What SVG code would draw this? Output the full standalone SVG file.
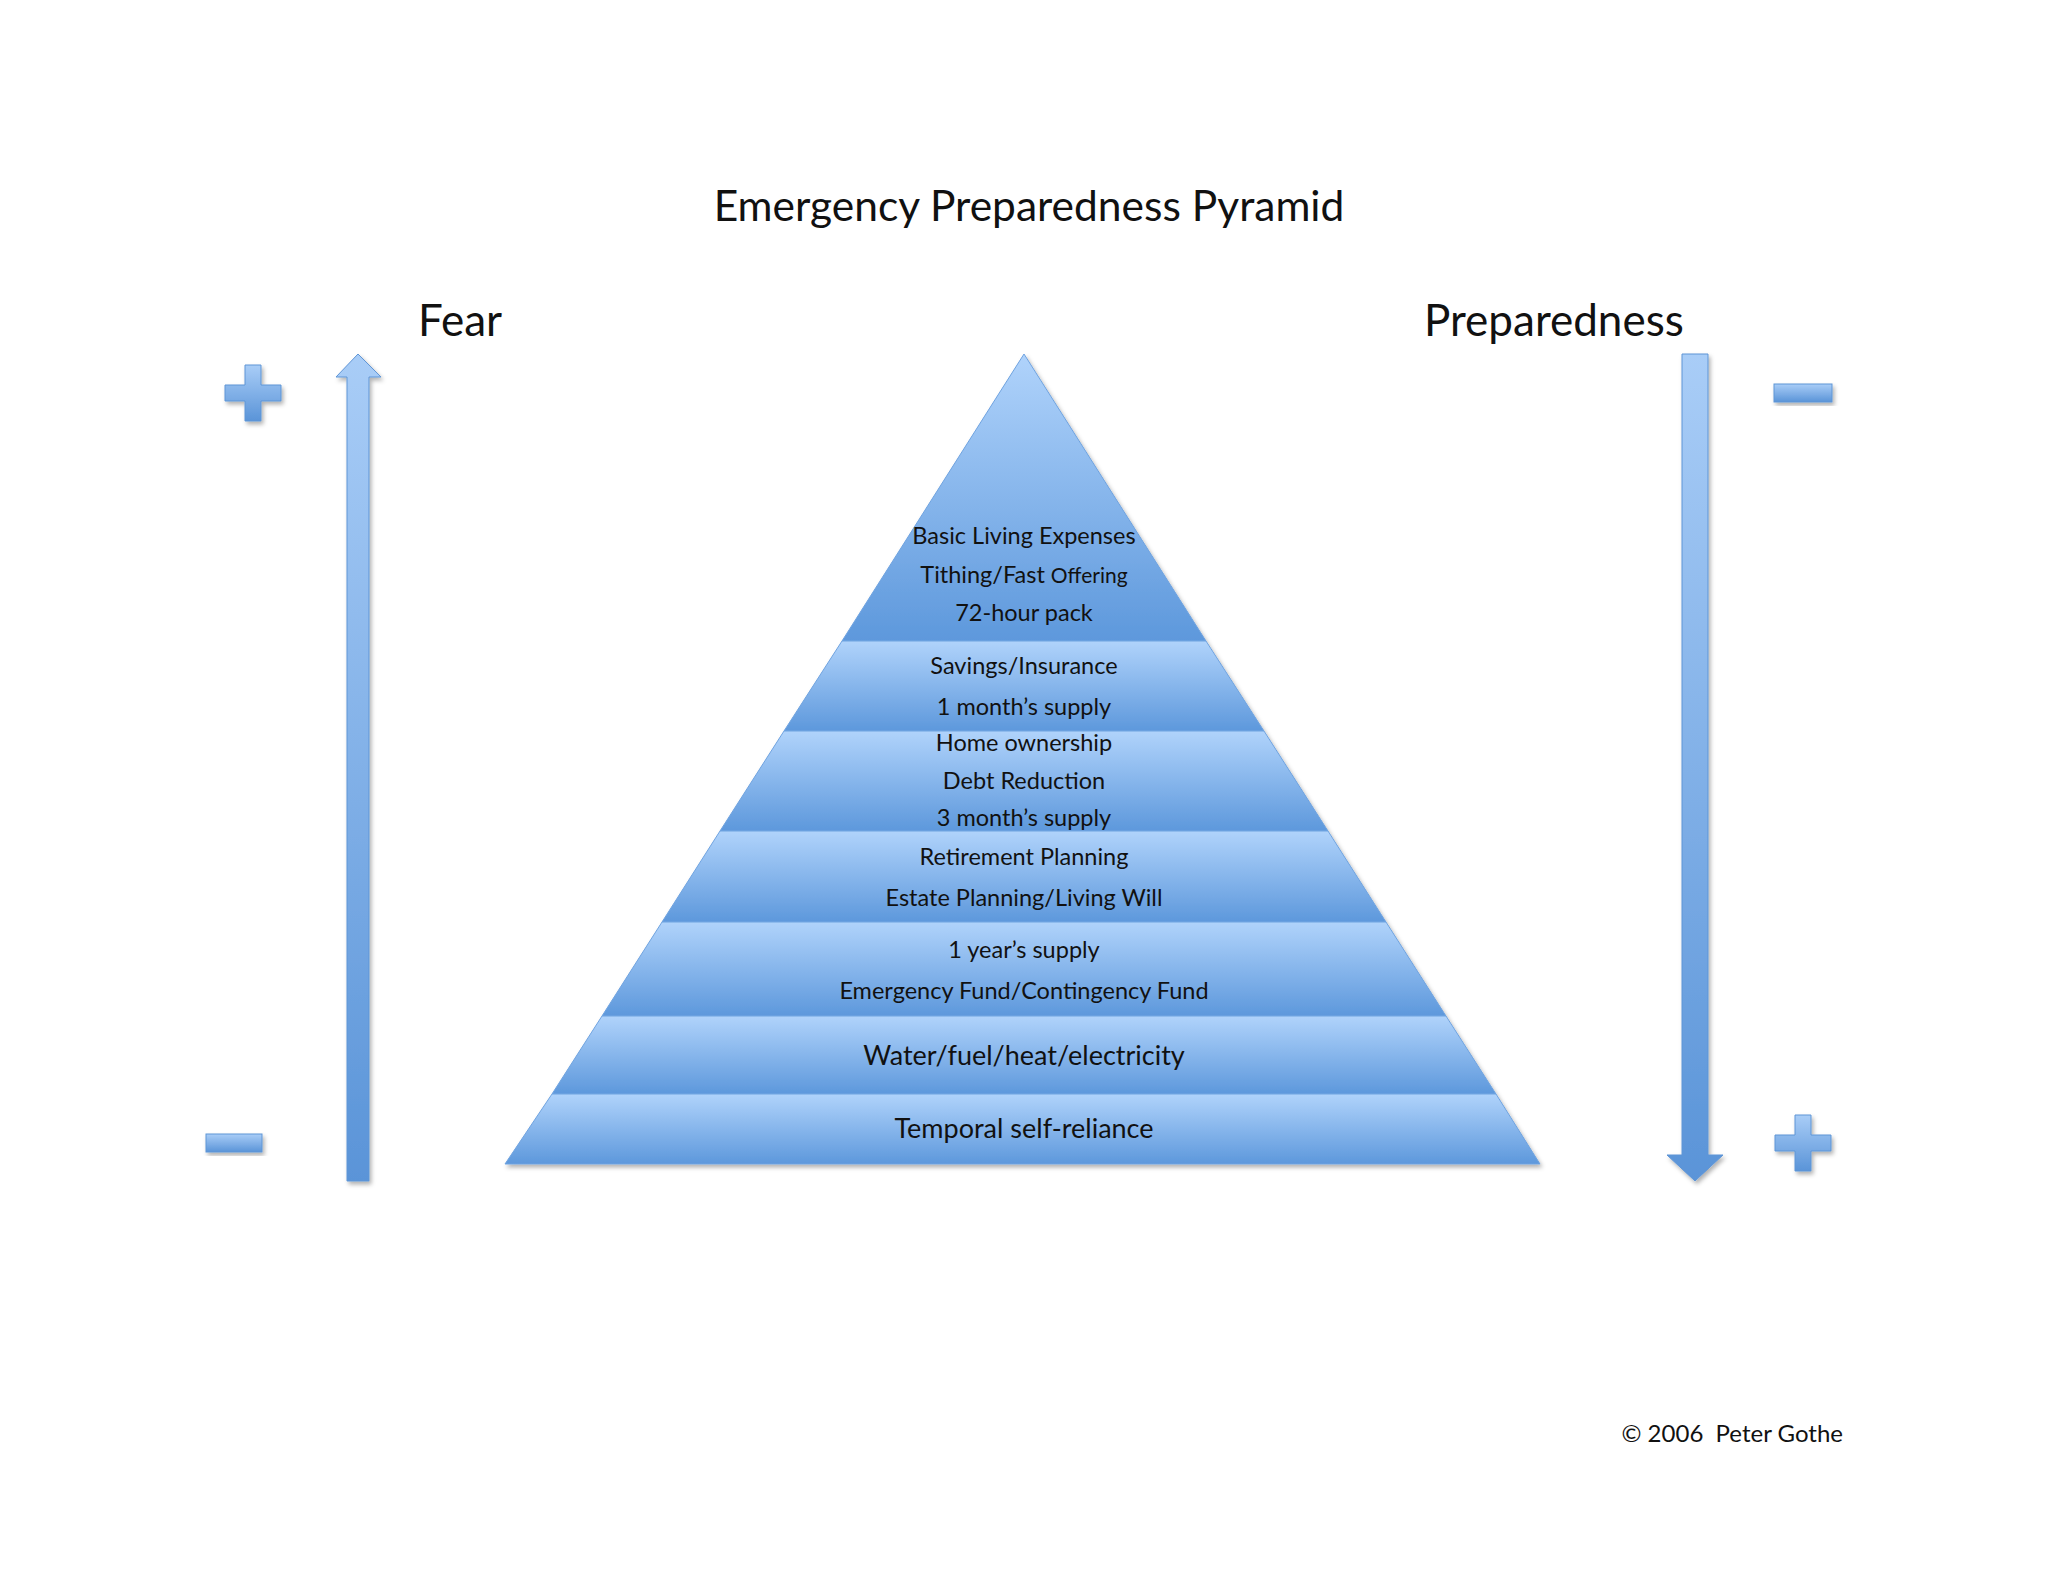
<svg xmlns="http://www.w3.org/2000/svg" width="2048" height="1582" viewBox="0 0 2048 1582">
<defs>
<linearGradient id="lg" x1="0" y1="0" x2="0" y2="1">
<stop offset="0" stop-color="#b0d3fb"/><stop offset="1" stop-color="#5d98dc"/>
</linearGradient>
<linearGradient id="ag" x1="0" y1="0" x2="0" y2="1">
<stop offset="0" stop-color="#a9cdf7"/><stop offset="1" stop-color="#5a94d8"/>
</linearGradient>
<filter id="sh" x="-10%" y="-10%" width="130%" height="130%">
<feDropShadow dx="2" dy="3" stdDeviation="2" flood-color="#000" flood-opacity="0.3"/>
</filter>
</defs>
<style>
.t{font-family:Lato,"Open Sans",sans-serif;fill:#111;text-anchor:middle}
.s{font-size:23.5px}
.b{font-size:27px}
.l{fill:url(#lg);stroke:#6fa3e0;stroke-width:1}
.a{fill:url(#ag);stroke:#5f95d6;stroke-width:1;filter:url(#sh)}
</style>
<rect width="2048" height="1582" fill="#fff"/>
<g transform="translate(5,3)">
<text class="t" x="1024" y="218" style="font-size:42.5px">Emergency Preparedness Pyramid</text>
<text x="413" y="333" style="font-family:Lato,sans-serif;font-size:44px;fill:#111">Fear</text>
<text x="1419" y="333" style="font-family:Lato,sans-serif;font-size:44px;fill:#111">Preparedness</text>
<g id="pyramid" filter="url(#sh)">
<g id="layer1"><polygon class="l" points="1019,351 1201,638 837,638"/></g>
<g id="layer2"><polygon class="l" points="837,638 1201,638 1259,728 779,728"/></g>
<g id="layer3"><polygon class="l" points="779,728 1259,728 1323,828 715,828"/></g>
<g id="layer4"><polygon class="l" points="715,828 1323,828 1381,919 657,919"/></g>
<g id="layer5"><polygon class="l" points="657,919 1381,919 1441,1013 597,1013"/></g>
<g id="layer6"><polygon class="l" points="597,1013 1441,1013 1491,1091 547,1091"/></g>
<g id="layer7"><polygon class="l" points="547,1091 1491,1091 1535,1161 500,1161"/></g>
</g>
<g id="labels">
<text class="t s" x="1019" y="541">Basic Living Expenses</text>
<text class="t s" x="1019" y="580">Tithing/Fast <tspan style="font-size:21px">Offering</tspan></text>
<text class="t s" x="1019" y="618">72-hour pack</text>
<text class="t s" x="1019" y="671">Savings/Insurance</text>
<text class="t s" x="1019" y="712">1 month’s supply</text>
<text class="t s" x="1019" y="748">Home ownership</text>
<text class="t s" x="1019" y="786">Debt Reduction</text>
<text class="t s" x="1019" y="823">3 month’s supply</text>
<text class="t s" x="1019" y="862">Retirement Planning</text>
<text class="t s" x="1019" y="903">Estate Planning/Living Will</text>
<text class="t s" x="1019" y="955">1 year’s supply</text>
<text class="t s" x="1019" y="996">Emergency Fund/Contingency Fund</text>
<text class="t b" x="1019" y="1062">Water/fuel/heat/electricity</text>
<text class="t b" x="1019" y="1135">Temporal self-reliance</text>
</g>
<g id="connectors">
<polygon class="a" points="353,351 376,374 364,374 364,1178 342,1178 342,374 331,374"/>
<polygon class="a" points="1677,351 1703,351 1703,1152 1718,1152 1690,1178 1662,1152 1677,1152"/>
</g>
<g id="signs">
<polygon class="a" points="240,362 256,362 256,382 276,382 276,398 256,398 256,418 240,418 240,398 220,398 220,382 240,382"/>
<rect class="a" x="201" y="1131" width="56" height="18"/>
<rect class="a" x="1769" y="381" width="58" height="18"/>
<polygon class="a" points="1790,1112 1806,1112 1806,1132 1826,1132 1826,1148 1806,1148 1806,1168 1790,1168 1790,1148 1770,1148 1770,1132 1790,1132"/>
</g>
<text x="1838" y="1439" style="font-family:Lato,sans-serif;font-size:24px;fill:#111;text-anchor:end">© 2006&#160; Peter Gothe</text>
</g>
</svg>
